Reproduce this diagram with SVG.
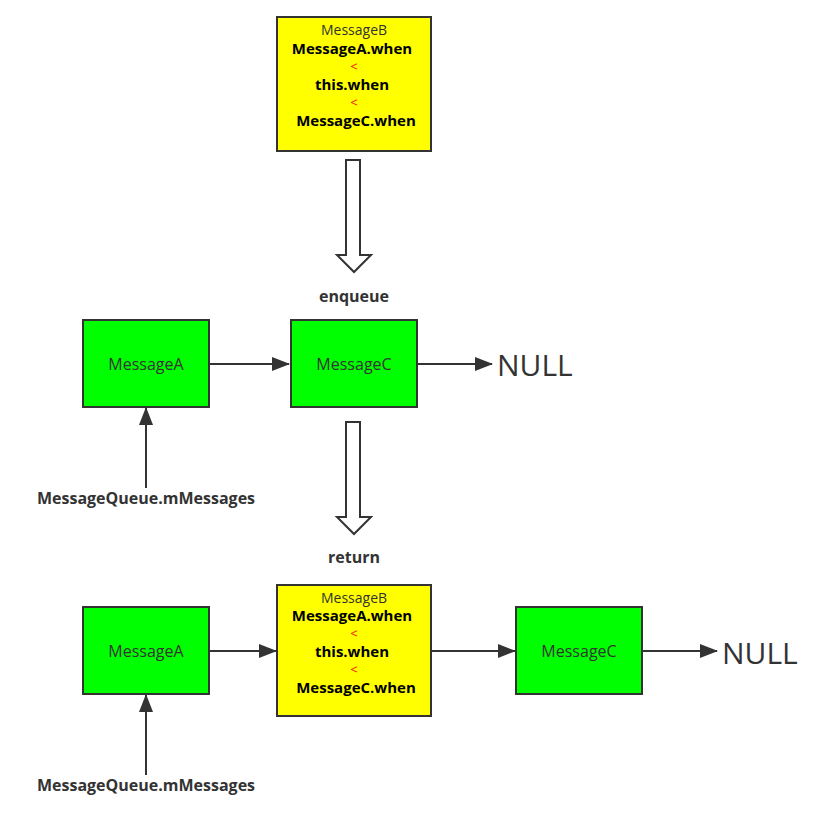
<svg xmlns="http://www.w3.org/2000/svg" width="824" height="822" viewBox="0 0 824 822">
<style>
text{font-family:"Open Sans","Liberation Sans",sans-serif;text-anchor:middle;dominant-baseline:central}
.g{fill:#00ff00;stroke:#333;stroke-width:2}
.y{fill:#ffff00;stroke:#333;stroke-width:2}
.n{font-size:16px;fill:#333}
.m{font-size:14px;fill:#333}
.b{font-size:15px;font-weight:bold;fill:#000}
.lt{font-size:13px;fill:#ff0000}
.l{font-size:16px;font-weight:bold;fill:#333}
.e{stroke:#333;stroke-width:2;fill:none}
.h{fill:#fff;stroke:#333;stroke-width:2}
.nul{font-size:30px;fill:#333;text-anchor:start}
</style>
<defs><marker id="a" markerWidth="18" markerHeight="14" refX="17" refY="7" orient="auto" markerUnits="userSpaceOnUse"><path d="M0,0L18,7L0,14z" fill="#333"/></marker></defs>
<g id="b1"><rect class="y" x="277" y="17" width="154" height="134"/>
<text class="m" x="354" y="29">MessageB</text>
<text class="b" x="352" y="48">MessageA.when</text><text class="lt" x="354" y="66">&lt;</text>
<text class="b" x="352" y="84">this.when</text><text class="lt" x="354" y="102">&lt;</text>
<text class="b" x="356" y="120">MessageC.when</text></g>
<g id="a2"><rect class="g" x="83" y="320" width="126" height="87"/><text class="n" x="146" y="364">MessageA</text></g>
<g id="c2"><rect class="g" x="291" y="320" width="126" height="87"/><text class="n" x="354" y="364">MessageC</text></g>
<g id="a3"><rect class="g" x="83" y="607" width="126" height="87"/><text class="n" x="146" y="651">MessageA</text></g>
<g id="b3"><rect class="y" x="277" y="585" width="154" height="131"/>
<text class="m" x="354" y="597">MessageB</text>
<text class="b" x="352" y="615">MessageA.when</text><text class="lt" x="354" y="633">&lt;</text>
<text class="b" x="352" y="651">this.when</text><text class="lt" x="354" y="669">&lt;</text>
<text class="b" x="356" y="687">MessageC.when</text></g>
<g id="c3"><rect class="g" x="516" y="607" width="126" height="87"/><text class="n" x="579" y="651">MessageC</text></g>
<g id="labels">
<text class="l" x="354" y="296">enqueue</text><text class="l" x="354" y="557">return</text>
<text class="l" x="146" y="498">MessageQueue.mMessages</text><text class="l" x="146" y="785">MessageQueue.mMessages</text>
<text class="nul" x="497" y="364">NULL</text><text class="nul" x="722" y="652">NULL</text></g>
<g id="connectors">
<path class="h" d="M346,160H360V255H371L354,272L337,255H346Z"/>
<path class="h" d="M346,422H360V517H371L354,534L337,517H346Z"/>
<line class="e" x1="209" y1="364" x2="289" y2="364" marker-end="url(#a)"/>
<line class="e" x1="417" y1="364" x2="492" y2="364" marker-end="url(#a)"/>
<line class="e" x1="146" y1="488" x2="146" y2="408" marker-end="url(#a)"/>
<line class="e" x1="209" y1="651" x2="276" y2="651" marker-end="url(#a)"/>
<line class="e" x1="431" y1="651" x2="515" y2="651" marker-end="url(#a)"/>
<line class="e" x1="642" y1="651" x2="717" y2="651" marker-end="url(#a)"/>
<line class="e" x1="146" y1="775" x2="146" y2="695" marker-end="url(#a)"/>
</g>
</svg>
